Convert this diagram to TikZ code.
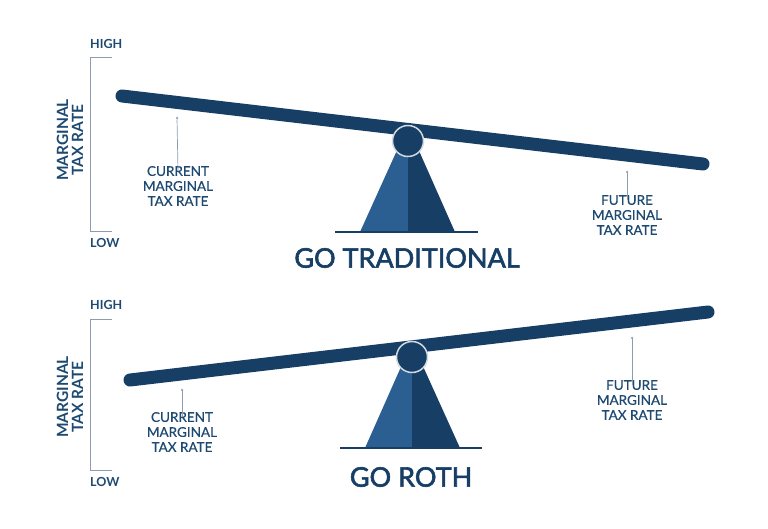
\documentclass[tikz,border=0pt]{standalone}
\usepackage{fontspec}
\setmainfont{Lato}
\newfontfamily\titlefont[FakeBold=2.2]{Lato}
\newfontfamily\labelfont[FakeBold=0.6]{Lato}
\usetikzlibrary{positioning}
\definecolor{navy}{HTML}{173F65}
\definecolor{midblue}{HTML}{2C5F91}
\definecolor{inkblue}{HTML}{1E4A72}
\definecolor{scalegrey}{HTML}{8E9CAE}
\definecolor{ringgrey}{HTML}{D3D9E0}

\begin{document}
\begin{tikzpicture}[x=1pt,y=-1pt,
    rate label/.style={text=inkblue,font=\labelfont\fontsize{13.5}{15}\selectfont,align=center,inner sep=0pt},
    axis end/.style={text=inkblue,font=\fontsize{12.5}{12}\selectfont\bfseries,anchor=west,inner sep=0pt},
    axis title/.style={text=inkblue,font=\fontsize{15.5}{15}\selectfont\bfseries,align=center,rotate=90,inner sep=0pt},
    title text/.style={text=navy,font=\titlefont\fontsize{27}{27}\selectfont,inner sep=0pt},
    beam/.style={navy,line width=13pt,line cap=round},
    pivot/.style={circle,fill=navy,draw=ringgrey,line width=1.5pt,minimum size=31pt,inner sep=0pt},
    pointer/.style={scalegrey,line width=0.7pt},
    pointer dot/.style={circle,fill=scalegrey,minimum size=2.5pt,inner sep=0pt},
    bracket/.style={scalegrey,line width=1pt}]

  \useasboundingbox (0,0) rectangle (768,529);

  % top: go traditional
  \node[axis end] (high1) at (90,44) {HIGH};
  \node[axis end] (low1) at (90,243) {LOW};
  \draw[bracket] (112,58) -- (90,58) -- (90,232) -- (112,232);
  \node[axis title] (axis1) at (70,140) {MARGINAL\\TAX RATE};

  \fill[midblue] (360,232) -- (408,126) -- (408,232) -- cycle;
  \fill[navy] (408,232) -- (408,126) -- (455,232) -- cycle;
  \draw[navy,line width=2pt] (335,232) -- (478,232);

  \coordinate (left1) at (122,96);
  \coordinate (right1) at (703,164);
  \draw[beam] (left1) -- (right1);
  \node[pivot] (pivot1) at (408,141) {};

  \node[pointer dot] (now1) at (177,118) {};
  \node[rate label] (current1) at (178,186) {CURRENT\\MARGINAL\\TAX RATE};
  \draw[pointer] (now1) -- ([yshift=-5pt]current1.north);
  \node[pointer dot] (later1) at (627,172) {};
  \node[rate label] (future1) at (627,215) {FUTURE\\MARGINAL\\TAX RATE};
  \draw[pointer] (later1) -- ([yshift=-5pt]future1.north);

  \node[title text] (title1) at (407,258) {GO TRADITIONAL};

  % bottom: go roth
  \node[axis end] (high2) at (90,305) {HIGH};
  \node[axis end] (low2) at (90,482) {LOW};
  \draw[bracket] (112,319) -- (90,319) -- (90,470) -- (112,470);
  \node[axis title] (axis2) at (70,397) {MARGINAL\\TAX RATE};

  \fill[midblue] (365,448) -- (412,342) -- (412,448) -- cycle;
  \fill[navy] (412,448) -- (412,342) -- (460,448) -- cycle;
  \draw[navy,line width=2pt] (340,448) -- (482,448);

  \coordinate (left2) at (130,380);
  \coordinate (right2) at (708,312);
  \draw[beam] (left2) -- (right2);
  \node[pivot] (pivot2) at (412,357) {};

  \node[pointer dot] (now2) at (182,390) {};
  \node[rate label] (current2) at (182,432) {CURRENT\\MARGINAL\\TAX RATE};
  \draw[pointer] (now2) -- ([yshift=-5pt]current2.north);
  \node[pointer dot] (later2) at (632,338) {};
  \node[rate label] (future2) at (632,400) {FUTURE\\MARGINAL\\TAX RATE};
  \draw[pointer] (later2) -- ([yshift=-5pt]future2.north);

  \node[title text] (title2) at (411,477) {GO ROTH};
\end{tikzpicture}
\end{document}
